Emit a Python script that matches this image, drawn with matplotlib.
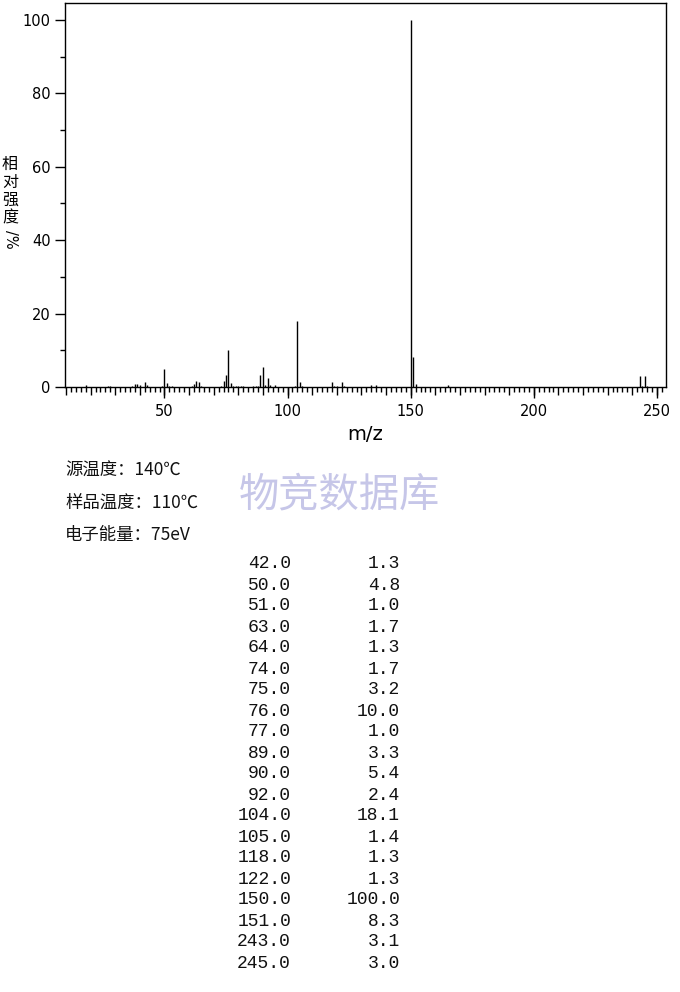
import matplotlib
matplotlib.use("Agg")
import matplotlib.pyplot as plt
from matplotlib.ticker import MultipleLocator, FixedLocator, FuncFormatter

# ---- data ----
spec_mz = [18, 27, 28, 37, 38, 39, 40, 42, 43, 49, 50, 51, 52, 53,
           61, 62, 63, 64, 65, 73, 74, 75, 76, 77, 78, 79, 80, 81, 82,
           86, 87, 88, 89, 90, 91, 92, 93, 95, 103, 104, 105, 106,
           118, 119, 120, 122, 123, 134, 136, 150, 151, 152, 165,
           243, 244, 245, 246]
spec_int = [0.6, 0.3, 0.3, 0.4, 0.8, 0.9, 0.5, 1.3, 0.6, 0.4, 4.8, 1.0, 0.3, 0.3,
            0.3, 0.7, 1.7, 1.3, 0.4, 0.4, 1.7, 3.2, 10.0, 1.0, 0.4, 0.3, 0.3, 0.4, 0.3,
            0.3, 0.3, 0.4, 3.3, 5.4, 0.6, 2.4, 0.6, 0.6, 0.3, 18.1, 1.4, 0.3,
            1.3, 0.4, 0.3, 1.3, 0.4, 0.5, 0.5, 100.0, 8.3, 0.8, 0.5,
            3.1, 0.3, 3.0, 0.4]

table_mz = [42.0, 50.0, 51.0, 63.0, 64.0, 74.0, 75.0, 76.0, 77.0, 89.0,
            90.0, 92.0, 104.0, 105.0, 118.0, 122.0, 150.0, 151.0, 243.0, 245.0]
table_int = [1.3, 4.8, 1.0, 1.7, 1.3, 1.7, 3.2, 10.0, 1.0, 3.3,
             5.4, 2.4, 18.1, 1.4, 1.3, 1.3, 100.0, 8.3, 3.1, 3.0]

info_lines = ["源温度：140℃", "样品温度：110℃", "电子能量：75eV"]
ylabel_chars = ["相", "对", "强", "度"]
x_labels = [50, 100, 150, 200, 250]
watermark = "物竞数据库"

W, H = 680, 992
fig = plt.figure(figsize=(W / 100, H / 100), dpi=100)

def fx(px):
    return px / W

def fy(py):
    return 1 - py / H

ax = fig.add_axes([fx(65), fy(387), fx(666) - fx(65), fy(3) - fy(387)])
ax.vlines(spec_mz, 0, spec_int, colors="black", linewidth=1.0)
ax.set_xlim(9.6, 253.7)
ax.set_ylim(0, 104.6)

for s in ["left", "top", "right", "bottom"]:
    ax.spines[s].set_linewidth(1.0)
    ax.spines[s].set_color("black")

# y ticks
ax.yaxis.set_major_locator(MultipleLocator(20))
ax.yaxis.set_minor_locator(MultipleLocator(10))
ax.tick_params(axis="y", which="major", direction="out", length=7.2, width=1,
               labelsize=10.5, pad=3)
ax.tick_params(axis="y", which="minor", direction="out", length=3.6, width=1)

# x ticks
ax.xaxis.set_major_locator(FixedLocator(list(range(10, 251, 10))))
ax.xaxis.set_minor_locator(MultipleLocator(2))
ax.xaxis.set_major_formatter(FuncFormatter(
    lambda v, p: str(int(round(v))) if int(round(v)) in x_labels else ""))
ax.tick_params(axis="x", which="major", direction="out", length=6.0, width=1,
               labelsize=10.5, pad=6)
ax.tick_params(axis="x", which="minor", direction="out", length=3.8, width=1)

sec = ax.secondary_xaxis("bottom")
sec.set_xticks(x_labels)
sec.set_xticklabels([""] * len(x_labels))
sec.tick_params(axis="x", direction="out", length=8, width=1)
sec.spines["bottom"].set_visible(False)

# x label
fig.text(fx(365), fy(435), "m/z", ha="center", va="center", fontsize=14,
         family=["DejaVu Sans"])

# y label (stacked chars)
cjk = ["Noto Sans CJK SC", "DejaVu Sans"]
for i, ch in enumerate(ylabel_chars):
    fig.text(fx(10), fy(164 + i * 18), ch, ha="center", va="center",
             fontsize=11.5, family=cjk)
fig.text(fx(10), fy(239), "/%", ha="center", va="center", fontsize=10.5,
         rotation=-90, family=["DejaVu Sans"])

# info lines
for i, line in enumerate(info_lines):
    fig.text(fx(65), fy(471 + i * 32), line, ha="left", va="center",
             fontsize=12.5, family=cjk, color="#111111")

# watermark
fig.text(fx(339), fy(495), watermark, ha="center", va="center",
         fontsize=29, family=cjk, color="#c6c6e8")

# table
for i, (m, v) in enumerate(zip(table_mz, table_int)):
    y = fy(564 + i * 21.0)
    fig.text(fx(291), y, f"{m:.1f}", ha="right", va="center", fontsize=13,
             family=["Liberation Mono"], color="#111111")
    fig.text(fx(400), y, f"{v:.1f}", ha="right", va="center", fontsize=13,
             family=["Liberation Mono"], color="#111111")

fig.savefig("out.png", dpi=100)
